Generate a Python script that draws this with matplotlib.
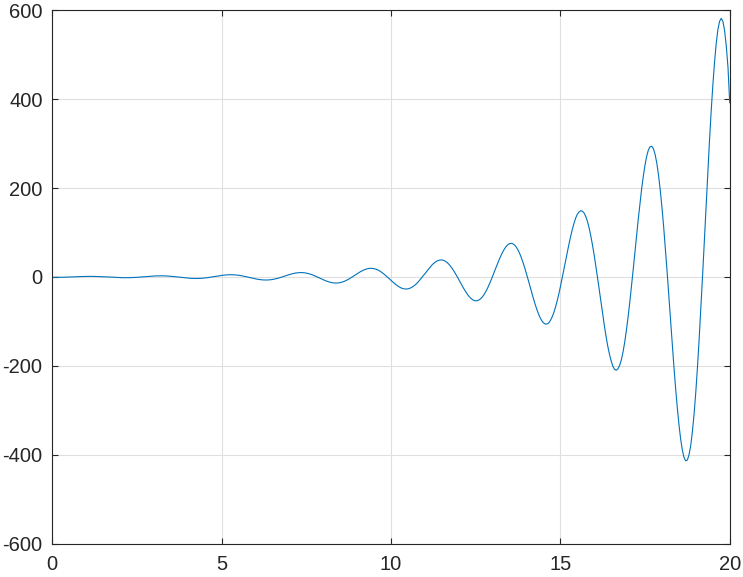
import numpy as np
import matplotlib
matplotlib.use("Agg")
import matplotlib.pyplot as plt

# samples, one every 0.05 from 0 to 20
t = np.round(np.arange(0, 20.0001, 0.05), 2)
vals = [
    -0.9, -0.9, -0.9, -0.9, -0.9, -0.8, -0.7, -0.6, -0.5, -0.4, -0.3, -0.1, 0.1, 0.2, 0.4, 0.5, 0.7, 0.8, 1.0, 1.1,
    1.2, 1.2, 1.3, 1.3, 1.2, 1.2, 1.1, 1.0, 0.9, 0.7, 0.5, 0.3, 0.1, -0.2, -0.4, -0.6, -0.8, -1.1, -1.2, -1.4,
    -1.6, -1.7, -1.8, -1.8, -1.8, -1.7, -1.6, -1.5, -1.3, -1.1, -0.9, -0.6, -0.3, 0.0, 0.3, 0.6, 1.0, 1.3, 1.6, 1.8,
    2.1, 2.3, 2.4, 2.5, 2.5, 2.5, 2.4, 2.3, 2.1, 1.8, 1.5, 1.1, 0.7, 0.3, -0.1, -0.6, -1.0, -1.5, -1.9, -2.3,
    -2.7, -3.0, -3.2, -3.4, -3.5, -3.5, -3.5, -3.3, -3.1, -2.8, -2.4, -1.9, -1.4, -0.9, -0.2, 0.4, 1.0, 1.7, 2.3, 2.9,
    3.4, 3.9, 4.3, 4.6, 4.9, 5.0, 5.0, 4.8, 4.6, 4.2, 3.8, 3.2, 2.5, 1.8, 0.9, 0.1, -0.8, -1.7, -2.6, -3.5,
    -4.3, -5.1, -5.7, -6.2, -6.6, -6.9, -7.0, -6.9, -6.7, -6.3, -5.7, -5.0, -4.2, -3.2, -2.1, -0.9, 0.3, 1.6, 2.9, 4.1,
    5.3, 6.4, 7.4, 8.3, 8.9, 9.4, 9.7, 9.8, 9.6, 9.3, 8.6, 7.8, 6.7, 5.5, 4.0, 2.4, 0.8, -1.0, -2.8, -4.6,
    -6.3, -8.0, -9.5, -10.8, -11.9, -12.8, -13.4, -13.7, -13.7, -13.4, -12.8, -11.8, -10.5, -8.9, -7.0, -5.0, -2.7, -0.3, 2.2, 4.7,
    7.2, 9.6, 11.9, 13.9, 15.7, 17.2, 18.3, 19.1, 19.4, 19.2, 18.6, 17.5, 16.0, 14.1, 11.7, 9.0, 6.0, 2.7, -0.7, -4.2,
    -7.8, -11.2, -14.6, -17.7, -20.4, -22.8, -24.8, -26.2, -27.0, -27.2, -26.8, -25.7, -24.0, -21.7, -18.8, -15.3, -11.4, -7.0, -2.3, 2.5,
    7.5, 12.5, 17.3, 21.9, 26.1, 29.9, 33.0, 35.5, 37.2, 38.1, 38.2, 37.3, 35.5, 32.8, 29.3, 24.9, 19.8, 14.1, 7.8, 1.1,
    -5.8, -12.8, -19.7, -26.4, -32.7, -38.4, -43.5, -47.6, -50.8, -52.9, -53.7, -53.4, -51.8, -48.8, -44.7, -39.3, -32.8, -25.4, -17.0, -8.0,
    1.5, 11.2, 21.1, 30.7, 40.0, 48.6, 56.4, 63.1, 68.5, 72.5, 74.9, 75.6, 74.5, 71.6, 67.0, 60.6, 52.5, 42.9, 32.0, 20.0,
    7.1, -6.4, -20.2, -34.0, -47.4, -60.2, -71.9, -82.4, -91.3, -98.2, -103, -106, -106, -104, -98.8, -91.5, -81.7, -69.7, -55.7, -39.8,
    -22.5, -4.0, 15.1, 34.5, 53.8, 72.4, 90.0, 106, 120, 132, 141, 146, 149, 148, 144, 136, 125, 110, 92.0, 71.4,
    48.4, 23.5, -2.8, -29.9, -57.2, -84.1, -110, -134, -156, -174, -189, -201, -208, -210, -207, -199, -187, -169, -147, -120,
    -90.4, -57.1, -21.4, 16.0, 54.2, 92.5, 130, 165, 198, 227, 252, 272, 286, 293, 294, 288, 275, 255, 228, 195,
    156, 113, 64.7, 13.6, -39.5, -93.4, -147, -199, -248, -292, -331, -364, -389, -406, -414, -412, -400, -379, -347, -307,
    -258, -201, -137, -68.5, 4.4, 79.5, 155, 230, 302, 369, 429, 481, 524, 556, 575, 582, 575, 554, 519, 471,
    392,
]

xticks = [0, 5, 10, 15, 20]
yticks = [-600, -400, -200, 0, 200, 400, 600]

plt.rcParams['font.family'] = ['Liberation Sans', 'DejaVu Sans']
plt.rcParams['axes.unicode_minus'] = False

fig = plt.figure(figsize=(7.43, 5.77), dpi=100)
ax = fig.add_axes([0.0704, 0.058, 0.9117, 0.9241])
ax.plot(t, vals, color='#0072BD', lw=0.8)

ax.set_xlim(0, 20)
ax.set_ylim(-600, 600)
ax.set_xticks(xticks)
ax.set_yticks(yticks)
ax.grid(True, color='#dfdfdf', lw=0.8)
ax.set_axisbelow(True)
ax.tick_params(direction='in', length=4.5, width=0.8, colors='#262626',
               labelsize=14.5, top=True, right=True)
ax.tick_params(axis='x', pad=8.5)
ax.tick_params(axis='y', pad=7)
for s in ax.spines.values():
    s.set_color('#262626')
    s.set_linewidth(0.8)

fig.savefig('out.png')
